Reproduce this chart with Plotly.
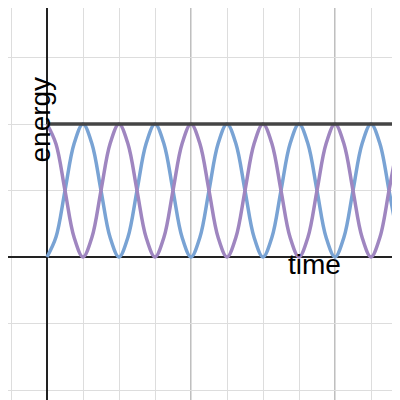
import plotly.graph_objects as go

t = [0, 0.125, 0.25, 0.375, 0.5, 0.625, 0.75, 0.875,
     1, 1.125, 1.25, 1.375, 1.5, 1.625, 1.75, 1.875,
     2, 2.125, 2.25, 2.375, 2.5, 2.625, 2.75, 2.875,
     3, 3.125, 3.25, 3.375, 3.5, 3.625, 3.75, 3.875,
     4, 4.125, 4.25, 4.375, 4.5, 4.625, 4.75, 4.83]
kinetic = [0, 0.15, 0.5, 0.85, 1, 0.85, 0.5, 0.15,
           0, 0.15, 0.5, 0.85, 1, 0.85, 0.5, 0.15,
           0, 0.15, 0.5, 0.85, 1, 0.85, 0.5, 0.15,
           0, 0.15, 0.5, 0.85, 1, 0.85, 0.5, 0.15,
           0, 0.15, 0.5, 0.85, 1, 0.85, 0.5, 0.27]
potential = [1, 0.85, 0.5, 0.15, 0, 0.15, 0.5, 0.85,
             1, 0.85, 0.5, 0.15, 0, 0.15, 0.5, 0.85,
             1, 0.85, 0.5, 0.15, 0, 0.15, 0.5, 0.85,
             1, 0.85, 0.5, 0.15, 0, 0.15, 0.5, 0.85,
             1, 0.85, 0.5, 0.15, 0, 0.15, 0.5, 0.73]
total = [1] * len(t)

fig = go.Figure()
fig.add_trace(go.Scatter(x=t, y=kinetic, mode="lines",
                         line=dict(color="#79a3d4", width=3.5, shape="spline", smoothing=1.0)))
fig.add_trace(go.Scatter(x=t, y=potential, mode="lines",
                         line=dict(color="#9f86c0", width=3.5, shape="spline", smoothing=1.0)))
fig.add_trace(go.Scatter(x=t, y=total, mode="lines",
                         line=dict(color="#444444", width=3.5)))

grid = "#dddddd"
fig.update_layout(
    width=400, height=400, margin=dict(l=0, r=0, t=0, b=0),
    showlegend=False, plot_bgcolor="white", paper_bgcolor="white",
    xaxis=dict(range=[-39 / 72, 361 / 72], dtick=0.5, tick0=0, gridcolor=grid, gridwidth=1,
               zeroline=True, zerolinecolor="#222222", zerolinewidth=1.5,
               showticklabels=False, ticks=""),
    yaxis=dict(range=[-151 / 133, 249 / 133], dtick=0.5, tick0=0, gridcolor=grid, gridwidth=1,
               zeroline=True, zerolinecolor="#222222", zerolinewidth=1.5,
               showticklabels=False, ticks=""),
    font=dict(family="Liberation Sans, Arial", size=28, color="black"),
)
for xv in [2, 4]:
    fig.add_vline(x=xv, line=dict(color="#aaaaaa", width=1.5), layer="below")

fig.add_annotation(text="energy", x=14 / 400, y=1 - 67 / 400, xref="paper", yref="paper",
                   showarrow=False, textangle=-90)
fig.add_annotation(text="time", x=335 / 400, y=1 - 274 / 400, xref="paper", yref="paper",
                   showarrow=False)

fig.write_html("out.html")
